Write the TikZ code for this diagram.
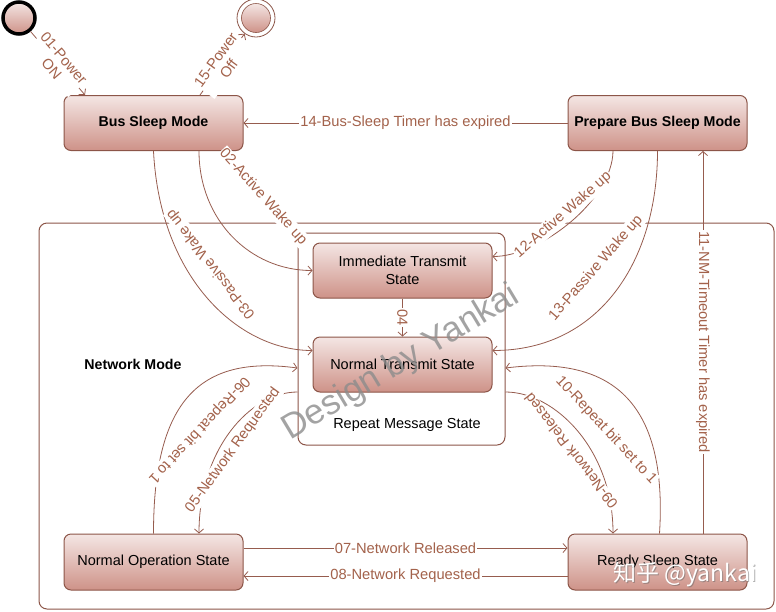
\documentclass[tikz,border=0pt]{standalone}
\usepackage{fontspec}
\setmainfont{Liberation Sans}
\newfontfamily\cjkfont{Noto Sans CJK SC}
\usetikzlibrary{arrows.meta,calc}
\definecolor{lineC}{RGB}{150,92,78}
\definecolor{edgeC}{RGB}{140,85,72}
\definecolor{labC}{RGB}{163,98,75}
\definecolor{topC}{RGB}{244,230,228}
\definecolor{botC}{RGB}{206,146,136}
\begin{document}
\begin{tikzpicture}[x=1pt,y=-1pt,
  state/.style={draw=edgeC, line width=1pt, rounded corners=7pt, top color=topC, bottom color=botC,
    minimum width=179pt, minimum height=55pt, inner sep=2pt, text=black, align=center,
    font=\fontsize{14.5}{18}\selectfont},
  bstate/.style={state, font=\bfseries\fontsize{14.2}{17}\selectfont},
  container/.style={draw=edgeC, line width=1pt, rounded corners=8pt},
  conn/.style={draw=lineC, line width=0.8pt, -{Straight Barb[length=4pt,width=9pt]}},
  lab/.style={text=labC, fill=white, inner sep=1pt, font=\fontsize{14.7}{16}\selectfont}]
\useasboundingbox (0,0) rectangle (776,611);

% containers
\node[container, minimum width=735pt, minimum height=386pt] (nm) at (406.5,416) {};
\node[font=\bfseries\fontsize{14.2}{17}\selectfont] (nmlab) at (133,364) {Network Mode};
\node[container, minimum width=207pt, minimum height=212pt] (rms) at (401.5,339) {};
\node[font=\fontsize{14.5}{17}\selectfont] (rmslab) at (407,425) {Repeat Message State};

% pseudo states
\node[circle, draw=black, line width=3.5pt, top color=topC, bottom color=botC, minimum size=32pt, inner sep=0pt] (init) at (19,18) {};
\node[circle, draw=edgeC, line width=0.8pt, fill=white, minimum size=38pt, inner sep=0pt] (fin) at (256,18) {};
\node[circle, draw=edgeC, line width=0.6pt, top color=topC, bottom color=botC, minimum size=29pt, inner sep=0pt] (fininner) at (256,18) {};

% states
\node[bstate] (bsm) at (153.5,123) {Bus Sleep Mode};
\node[bstate] (pbsm) at (657.5,123) {Prepare Bus Sleep Mode};
\node[state] (its) at (402.5,270.5) {Immediate Transmit\\State};
\node[state] (nts) at (402.5,364.5) {Normal Transmit State};
\node[state, minimum height=56pt] (noss) at (153.5,562) {Normal Operation State};
\node[state, minimum height=56pt] (rss) at (657.5,562) {Ready Sleep State};

% straight transitions
\draw[conn] (init) -- ($(bsm.north)+(-68.5,0)$) node[lab, midway, sloped, align=center] (l01) {01-Power\\ON};
\draw[conn] ($(bsm.north)+(46.5,0)$) -- (fin) node[lab, midway, sloped, align=center] (l15) {15-Power\\Off};
\draw[conn] (pbsm.west) -- (bsm.east) node[lab, midway] (l14) {14-Bus-Sleep Timer has expired};
\draw[conn] (its.south) -- (nts.north) node[lab, midway, rotate=-90] (l04) {04};
\draw[conn] ($(rss.north)+(45.5,0)$) -- ($(pbsm.south)+(45.5,0)$) node[lab, midway, rotate=-90] (l11) {11-NM-Timeout Timer has expired};
\draw[conn] ($(noss.east)+(0,-14)$) -- ($(rss.west)+(0,-14)$) node[lab, midway] (l07) {07-Network Released};
\draw[conn] ($(rss.west)+(0,14)$) -- ($(noss.east)+(0,14)$) node[lab, midway] (l08) {08-Network Requested};

% curved transitions
\draw[conn] ($(bsm.south)+(45.5,0)$) .. controls (199,220) and (250,270.5) .. (its.west);
\draw[conn] (bsm.south) .. controls (160,280) and (240,350.5) .. ($(nts.west)+(0,-14)$);
\draw[conn] ($(pbsm.south)+(-44.5,0)$) .. controls (612.5,200) and (540,256.5) .. ($(its.east)+(0,-14)$);
\draw[conn] (pbsm.south) .. controls (657.5,260) and (600,350.5) .. ($(nts.east)+(0,-14)$);
\draw[conn] (noss.north) .. controls (153.5,400) and (200,355) .. ($(rms.west)+(0,29)$);
\draw[conn] ($(rms.west)+(0,53)$) .. controls (250,392) and ($(noss.north)+(45.5,-84)$) .. ($(noss.north)+(45.5,0)$);
\draw[conn] ($(rms.east)+(0,53)$) .. controls (555,392) and ($(rss.north)+(-44.5,-84)$) .. ($(rss.north)+(-44.5,0)$);
\draw[conn] ($(rss.north)+(2,0)$) .. controls (668,400) and (610,355) .. ($(rms.east)+(0,29)$);

% curve labels
\node[lab, rotate=-48] (l02) at (263,197) {02-Active Wake up};
\node[lab, rotate=128] (l03) at (211,264) {03-Passive Wake up};
\node[lab, rotate=41] (l12) at (563,215) {12-Active Wake up};
\node[lab, rotate=49] (l13) at (596,268) {13-Passive Wake up};
\node[lab, rotate=-133] (l06) at (199,430) {06-Repeat bit set to 1};
\node[lab, rotate=54] (l05) at (233,450) {05-Network Requested};
\node[lab, rotate=128] (l09) at (571,451) {09-Network Released};
\node[lab, rotate=-47] (l10) at (606,430) {10-Repeat bit set to 1};

% watermarks
\node[text=black!45, opacity=0.8, rotate=31, font=\fontsize{35}{40}\selectfont] (wm) at (401,363) {Design by Yankai};
\node[text=black!60, opacity=0.5, font=\cjkfont\fontsize{23}{26}\selectfont] (wm2s) at (686,576) {知乎 @yankai};
\node[text=white, font=\cjkfont\fontsize{23}{26}\selectfont] (wm2) at (685,575) {知乎 @yankai};
\end{tikzpicture}
\end{document}
